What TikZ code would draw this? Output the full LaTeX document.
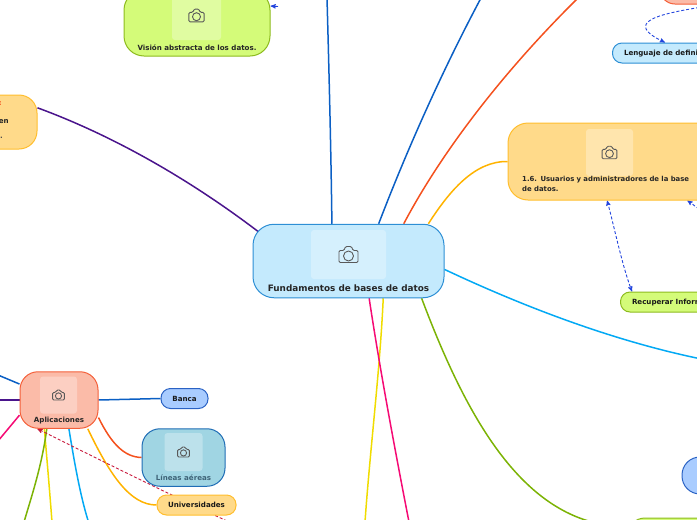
\documentclass[tikz,border=0pt]{standalone}
\usepackage{fontspec}
\setmainfont{DejaVu Sans}
\usetikzlibrary{arrows,backgrounds,calc}

\definecolor{skyfill}{HTML}{C4EAFD}
\definecolor{skyline}{HTML}{2D8FD5}
\definecolor{salmonfill}{HTML}{FBBBA8}
\definecolor{salmonline}{HTML}{F4603A}
\definecolor{limefill}{HTML}{D4FB79}
\definecolor{limeline}{HTML}{8DBB1E}
\definecolor{amberfill}{HTML}{FFDA8A}
\definecolor{amberline}{HTML}{FFBE2E}
\definecolor{tealfill}{HTML}{A0D5E3}
\definecolor{tealline}{HTML}{1F6DB5}
\definecolor{tealtext}{HTML}{3F6478}
\definecolor{bluefill}{HTML}{A9CCFF}
\definecolor{blueline}{HTML}{2A62C4}
\definecolor{linenavy}{HTML}{0B5FC4}
\definecolor{lineblue}{HTML}{03A9F4}
\definecolor{linered}{HTML}{F4511E}
\definecolor{lineamber}{HTML}{FFB300}
\definecolor{linegreen}{HTML}{7CB305}
\definecolor{lineyellow}{HTML}{F0DC00}
\definecolor{linepink}{HTML}{F50A74}
\definecolor{linepurple}{HTML}{4A148C}
\definecolor{dashblue}{HTML}{2244DD}
\definecolor{dashred}{HTML}{C8193C}

\tikzset{
  camera/.pic={
    \draw[draw=black!65,line width=0.9pt,rounded corners=1.2pt]
      (-9.5,8) -- (-9.5,-4) -- (-4.5,-4) -- (-3,-8) -- (3,-8) -- (4.5,-4) -- (9.5,-4) -- (9.5,8) -- cycle;
    \draw[draw=black!65,line width=0.9pt] (0,1.5) circle (5);
  }
}

\begin{document}
\begin{tikzpicture}[x=1pt,y=-1pt,>=stealth',
    mapbox/.style={draw,line width=1pt,inner xsep=0pt,inner ysep=4pt,text depth=2pt,align=center,font=\fontsize{7.1}{9}\selectfont\bfseries,text=black!85},
    pill/.style={draw,line width=1pt,rounded corners=9.5pt,inner xsep=11.5pt,inner ysep=0pt,minimum height=20pt,font=\fontsize{7.1}{9}\selectfont\bfseries,text=black!90},
    tile/.style={fill=white,fill opacity=0.3,rounded corners=3pt,inner sep=0pt},
    conn/.style={line width=1.5pt},
    dashconn/.style={line width=0.9pt,densely dashed,dashblue}]
  \useasboundingbox (0,0) rectangle (697,520);

  % central node
  \node[mapbox,fill=skyfill,draw=skyline,rounded corners=21pt,minimum width=191pt,text height=62.5pt,inner ysep=4.5pt,
        font=\fontsize{8.85}{10}\selectfont\bfseries] (main) at (348.5,261) {Fundamentos de bases de datos};
  \node[tile,minimum width=75pt,minimum height=49pt] (mainTile) at (348.5,254.5) {};
  \pic at (mainTile.center) {camera};

  % nodes at the top
  \node[mapbox,fill=limefill,draw=limeline,rounded corners=20pt,minimum width=146pt,text height=56pt] (vision) at (197,23) {Visión abstracta de los datos.};
  \node[tile,minimum width=49pt,minimum height=49pt] (visionTile) at (196.5,15.5) {};
  \pic[scale=0.8] at (visionTile.center) {camera};
  \node[draw=salmonline,fill=salmonfill,line width=1pt,rounded corners=15pt,minimum width=90pt,minimum height=40pt,inner sep=0pt] (salmon) at (705,-16) {};
  \node[pill,fill=skyfill,draw=skyline,anchor=west] (leng) at (612,53) {Lenguaje de definición de datos};

  % node cut by the left edge
  \node[draw=amberline,fill=amberfill,line width=1pt,rounded corners=18pt,minimum width=77pt,minimum height=54pt,inner sep=0pt] (left) at (-1.5,122) {};
  \node[anchor=east,inner sep=0pt,font=\fontsize{7.1}{9}\selectfont\bfseries,text=black!85] (leftText) at (9,121.5) {en};
  \node[anchor=east,inner sep=0pt,font=\fontsize{7.1}{9}\selectfont\bfseries,text=linered] (leftMark) at (2,104) {:};
  \node[anchor=east,inner sep=0pt,font=\fontsize{7.1}{9}\selectfont\bfseries,text=black!70] (leftDot) at (3,138) {.};

  % node 1.6
  \node[draw=amberline,fill=amberfill,line width=1pt,rounded corners=20pt,minimum width=212pt,minimum height=77pt,inner sep=0pt] (users) at (614,161.5) {};
  \node[tile,minimum width=47pt,minimum height=47pt] (usersTile) at (609.5,152.5) {};
  \pic[scale=0.78] at (usersTile.center) {camera};
  \node[anchor=north west,align=left,inner sep=0pt,text width=172pt,font=\fontsize{6.9}{10}\selectfont\bfseries,text=black!85] (usersText) at (522,176) {1.6. Usuarios y administradores de la base de datos.};
  \node[pill,fill=limefill,draw=limeline,anchor=west] (rec) at (620,302) {Recuperar Información};

  % nodes at the right
  \node[draw=blueline,fill=bluefill,line width=1pt,rounded corners=18pt,minimum width=60pt,minimum height=37pt,inner sep=0pt] (round) at (712,475.5) {};
  \node[draw=limeline,fill=limefill,line width=1pt,rounded corners=18pt,minimum width=120pt,minimum height=60pt,inner sep=0pt] (bottom) at (687,548) {};

  % Aplicaciones and its children
  \node[mapbox,fill=salmonfill,draw=salmonline,rounded corners=18pt,minimum width=78pt,text height=46.5pt] (apli) at (59,400) {Aplicaciones};
  \node[tile,minimum width=37pt,minimum height=37pt] (apliTile) at (58.5,395) {};
  \pic[scale=0.62] at (apliTile.center) {camera};
  \node[pill,fill=bluefill,draw=blueline,minimum width=47pt,inner xsep=0pt] (banca) at (184.5,398.5) {Banca};
  \node[mapbox,fill=tealfill,draw=tealline,rounded corners=18pt,minimum width=83pt,text height=47.5pt,text=tealtext] (lineas) at (183.5,457.5) {Líneas aéreas};
  \node[tile,minimum width=38pt,minimum height=38pt] (lineasTile) at (183.5,452) {};
  \pic[scale=0.62] at (lineasTile.center) {camera};
  \node[pill,fill=amberfill,draw=amberline,minimum width=79pt,inner xsep=0pt] (uni) at (196.5,505) {Universidades};

  % free ends of the connectors
  \coordinate (topA) at (327,-2);
  \coordinate (topB) at (481,-2);
  \coordinate (topC) at (578,-2);
  \coordinate (rightA) at (699,358.5);
  \coordinate (botA) at (592,522);
  \coordinate (botB) at (365,522);
  \coordinate (botC) at (409,522);
  \coordinate (edgeA) at (-2,375);
  \coordinate (edgeB) at (-2,400);
  \coordinate (edgeC) at (-2,441);
  \coordinate (apliA) at (88.5,522);
  \coordinate (apliB) at (52,522);
  \coordinate (apliC) at (24,522);
  \coordinate (redEnd) at (227,521);
  \coordinate (dashEndA) at (699,7.5);
  \coordinate (dashEndB) at (699,209);
  \coordinate (dashEndC) at (278,6.5);

  \begin{scope}[on background layer]
    \draw[conn,linenavy] (main.114) .. controls (331,150) and (329,70) .. (topA);
    \draw[conn,linenavy] (main.51) .. controls (405,155) and (440,75) .. (topB);
    \draw[conn,linered] (main.34) .. controls (440,155) and (500,75) .. (topC);
    \draw[conn,lineamber] (main.25) .. controls (450,190) and (475,161) .. (users.west);
    \draw[conn,lineblue] (main.-5) .. controls (520,305) and (610,340) .. (rightA);
    \draw[conn,linegreen] (main.-27) .. controls (460,400) and (510,500) .. (botA);
    \draw[conn,lineyellow] (main.-47) .. controls (380,370) and (370,450) .. (botB);
    \draw[conn,linepink] (main.-61) .. controls (380,370) and (395,450) .. (botC);
    \draw[conn,linepurple] ($(main.north west)+(15,15)$) .. controls (205,190) and (125,140) .. (left.20);
    \draw[conn,linenavy] (apli.158) -- (edgeA);
    \draw[conn,linepurple] (apli.west) -- (edgeB);
    \draw[conn,linepink] (apli.201) -- (edgeC);
    \draw[conn,linenavy] (apli.east) -- (banca.west);
    \draw[conn,linered] (apli.-24) .. controls (112,445) and (125,457) .. (lineas.west);
    \draw[conn,lineamber] (apli.-45) .. controls (110,475) and (130,505) .. (uni.west);
    \draw[conn,lineblue] (apli.-71) .. controls (74,460) and (80,495) .. (apliA);
    \draw[conn,lineyellow] (apli.243) .. controls (47,460) and (50,495) .. (apliB);
    \draw[conn,linegreen] (apli.247) .. controls (42,465) and (32,495) .. (apliC);
    \draw[->,line width=0.9pt,densely dashed,dashred] (redEnd) .. controls (160,490) and (100,460) .. (apli.233);
    \draw[->,dashconn] (dashEndA) .. controls (660,14) and (622,22) .. ($(leng.north west)+(53,0)$);
    \draw[<->,dashconn] (users.260) .. controls (615,230) and (622,265) .. ($(rec.north west)+(12,0)$);
    \draw[->,dashconn] (dashEndB) -- (users.-28);
    \draw[->,dashconn] (dashEndC) -- (vision.13);
  \end{scope}
\end{tikzpicture}
\end{document}
